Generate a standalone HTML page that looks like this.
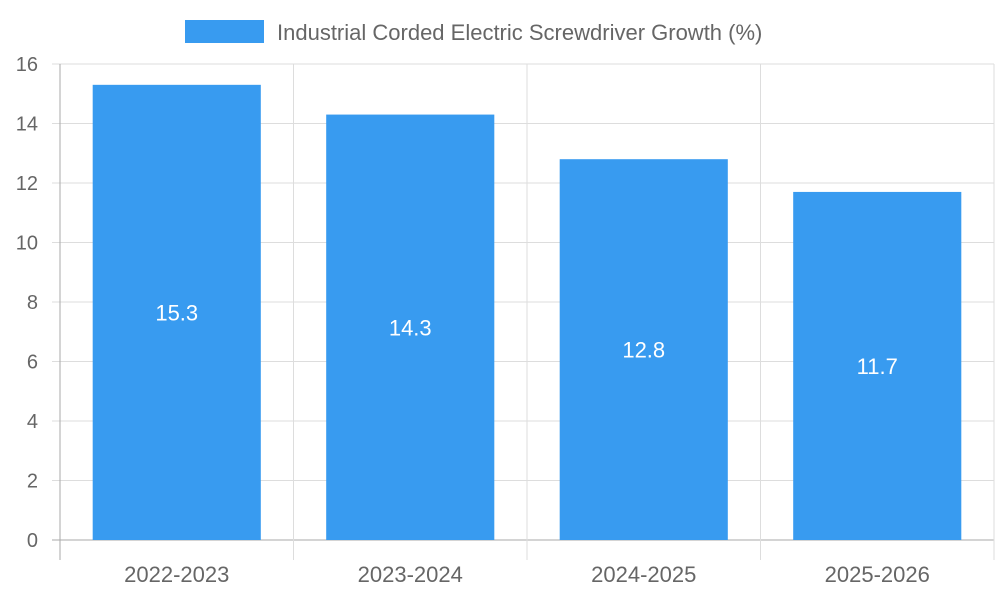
<!DOCTYPE html>
<html><head><meta charset="utf-8"><style>
html,body{margin:0;padding:0;background:#fff;}
svg{display:block;font-family:"Liberation Sans",sans-serif;}
</style></head><body>
<svg id="chart" width="1000" height="600">
<g>
<rect x="185" y="20" width="79" height="23" fill="#389bf0"></rect>
<text x="277" y="40" font-size="22" fill="#666">Industrial Corded Electric Screwdriver Growth (%)</text>
</g>
<g id="grid"></g>
<g id="bars"></g>
<g id="axes"></g>
</svg>
<script>
const categories = ["2022-2023","2023-2024","2024-2025","2025-2026"];
const values = [15.3,14.3,12.8,11.7];
const yTicks = [0,2,4,6,8,10,12,14,16];
const NS="http://www.w3.org/2000/svg";
const L=60,R=994,T=64,B=540,yMax=16;
const y=v=>B-(v/yMax)*(B-T);
const bw=(R-L)/categories.length;
const x=i=>L+bw*i;
function mk(tag,attrs,parent,text){const e=document.createElementNS(NS,tag);for(const k in attrs)e.setAttribute(k,attrs[k]);if(text!==undefined)e.textContent=text;parent.appendChild(e);return e;}
const grid=document.getElementById('grid'),bars=document.getElementById('bars'),axes=document.getElementById('axes');
yTicks.forEach(t=>{
  const ln=mk('line',{x1:52,x2:R,y1:y(t),y2:y(t),stroke:t===0?'#aaa':'#ddd','stroke-width':1},grid);
  
  
  const tx=mk('text',{x:38,y:y(t)+7,'font-size':20,fill:'#666','text-anchor':'end'},axes,String(t));
  
  
});
for(let i=0;i<=categories.length;i++){
  const ln=mk('line',{x1:x(i),x2:x(i),y1:T,y2:560,stroke:i===0?'#aaa':'#ddd','stroke-width':1},grid);
  
  
}
categories.forEach((c,i)=>{
  const w=bw*0.72,bx=x(i)+(bw-w)/2;
  const r=mk('rect',{x:bx,y:y(values[i]),width:w,height:B-y(values[i]),fill:'#389bf0'},bars);
  
  
  const lb=mk('text',{x:bx+w/2,y:(y(values[i])+B)/2+8,'font-size':22,fill:'#fff','text-anchor':'middle'},bars,String(values[i]));
  
  
  const xl=mk('text',{x:x(i)+bw/2,y:582,'font-size':22,fill:'#666','text-anchor':'middle'},axes,c);
  
  
});
</script>
</body></html>
